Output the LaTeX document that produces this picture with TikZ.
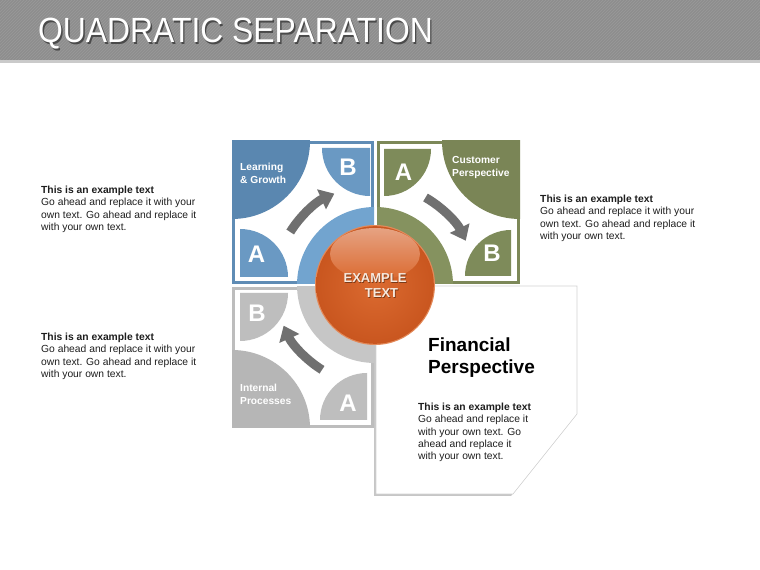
\documentclass[tikz,border=0pt]{standalone}
\usepackage{fontspec}
\setmainfont{Liberation Sans}
\usepackage{graphicx}
\usetikzlibrary{arrows.meta,patterns}

\definecolor{bandgray}{HTML}{8E8E8E}
\definecolor{bandline}{HTML}{999999}
\definecolor{bandedge}{HTML}{CACACA}
\definecolor{titleshade}{HTML}{4A4A4A}
\definecolor{blueframe}{HTML}{5F8CB5}
\definecolor{bluedark}{HTML}{5A87B0}
\definecolor{bluemid}{HTML}{6A99C3}
\definecolor{bluering}{HTML}{72A4CF}
\definecolor{greenframe}{HTML}{7C8858}
\definecolor{greendark}{HTML}{7A8556}
\definecolor{greenmid}{HTML}{7E8B5A}
\definecolor{greenring}{HTML}{85925F}
\definecolor{grayframe}{HTML}{BDBDBD}
\definecolor{graydark}{HTML}{B6B6B6}
\definecolor{graymid}{HTML}{BEBEBE}
\definecolor{grayring}{HTML}{C6C6C6}
\definecolor{arrowgray}{HTML}{707070}
\definecolor{orangerim}{HTML}{E38A5A}
\definecolor{orangein}{HTML}{DB6A30}
\definecolor{orangeout}{HTML}{C9561F}
\definecolor{glowtop}{HTML}{E6A282}
\definecolor{centrewhite}{HTML}{F7E9DE}
\definecolor{centreshade}{HTML}{7A3A18}
\definecolor{notegray}{HTML}{1E1E1E}

\tikzset{
  title/.style={anchor=base west, inner sep=0pt, font=\fontsize{35}{35}\selectfont},
  quadletter/.style={font=\fontsize{24}{24}\selectfont\bfseries, text=white, inner sep=0pt},
  quadlabel/.style={font=\fontsize{10.2}{13}\selectfont\bfseries, text=white, align=left, anchor=north west, inner sep=0pt},
  note/.style={font=\fontsize{10.3}{12.3}\selectfont, text=notegray, align=left, anchor=north west, inner sep=0pt},
  centretext/.style={font=\fontsize{13}{13}\selectfont\bfseries, anchor=base, inner sep=0pt},
  cyclearrow/.style={draw=arrowgray, line width=9pt, -{Triangle[width=21pt,length=14pt]}},
}

\begin{document}
\begin{tikzpicture}[x=1pt,y=1pt]

\useasboundingbox (0,0) rectangle (760,570);
\fill[white] (0,0) rectangle (760,570);

% header band
\fill[bandgray] (0,510) rectangle (760,570);
\fill[pattern=north east lines, pattern color=bandline] (0,510) rectangle (760,570);
\fill[bandedge] (0,507) rectangle (760,510);
\node[title, text=titleshade] (titleshadow) at (39.3,525.7) {\scalebox{0.91}[1]{QUADRATIC SEPARATION}};
\node[title, text=white] (titletext) at (38,527) {\scalebox{0.91}[1]{QUADRATIC SEPARATION}};

\coordinate (O) at (375,285);

% learning & growth
\fill[blueframe] (232,286) rectangle (374,429);
\fill[white] (235,289) rectangle (371,426);
\begin{scope}
\clip (232,286) rectangle (374,429);
\fill[bluedark] (232,429) circle (78);
\fill[bluering] (O) circle (78);
\end{scope}
\fill[bluemid] (370,422) -- (322,422) arc[start angle=180, end angle=270, radius=48] -- cycle;
\fill[bluemid] (240,293) -- (288,293) arc[start angle=0, end angle=90, radius=48] -- cycle;

% customer perspective
\fill[greenframe] (377,286) rectangle (520,429);
\fill[white] (380,289) rectangle (517,426);
\begin{scope}
\clip (377,286) rectangle (520,429);
\fill[greendark] (520,429) circle (78);
\fill[greenring] (O) circle (78);
\end{scope}
\fill[greenmid] (384,421) -- (384,374) arc[start angle=270, end angle=360, radius=47] -- cycle;
\fill[greenmid] (511,294) -- (511,340) arc[start angle=90, end angle=180, radius=46] -- cycle;

% internal processes
\fill[grayframe] (232,142) rectangle (374,283);
\fill[white] (235,145) rectangle (371,280);
\begin{scope}
\clip (232,142) rectangle (374,283);
\fill[graydark] (232,142) circle (78);
\fill[grayring] (O) circle (78);
\end{scope}
\fill[graymid] (240,277) -- (240,229) arc[start angle=270, end angle=360, radius=48] -- cycle;
\fill[graymid] (367,150) -- (367,197) arc[start angle=90, end angle=180, radius=47] -- cycle;

% financial perspective card
\coordinate (P1) at (376,284);
\coordinate (P2) at (577,284);
\coordinate (P3) at (577,156);
\coordinate (P4) at (513,76);
\coordinate (P5) at (376,76);
\fill[gray!45] (374,282) -- (575,282) -- (575,154) -- (511,74) -- (374,74) -- cycle;
\filldraw[fill=white, draw=gray!35, line width=0.6pt] (P1)--(P2)--(P3)--(P4)--(P5)--cycle;

% arrows
\draw[cyclearrow] (O) ++(148:100) arc[start angle=148, end angle=114, radius=100];
\draw[cyclearrow] (O) ++(60:101) arc[start angle=60, end angle=26, radius=101];
\draw[cyclearrow] (O) ++(238:100) arc[start angle=238, end angle=204, radius=100];

% centre ball
\fill[orangerim] (O) circle (60);
\shade[inner color=orangein, outer color=orangeout] (O) circle (58.8);
\shade[top color=glowtop, bottom color=orangein] (375,316) ellipse (45 and 26);
\node[centretext, text=centreshade] (exshadow) at (375.8,286.2) {EXAMPLE};
\node[centretext, text=centrewhite] (extext) at (375,287) {EXAMPLE};
\node[centretext, text=centreshade] (txshadow) at (382.3,271.2) {TEXT};
\node[centretext, text=centrewhite] (txtext) at (381.5,272) {TEXT};

% quadrant letters
\node[quadletter] (lgB) at (348,402.5) {B};
\node[quadletter] (lgA) at (256.5,316) {A};
\node[quadletter] (cpA) at (403.5,398) {A};
\node[quadletter] (cpB) at (492,317) {B};
\node[quadletter] (ipB) at (257,257) {B};
\node[quadletter] (ipA) at (348,167) {A};

% quadrant labels
\node[quadlabel] (lglabel) at (240,407) {Learning\\\& Growth};
\node[quadlabel] (cplabel) at (452,414) {Customer\\Perspective};
\node[quadlabel] (iplabel) at (240,186) {Internal\\Processes};

\node[anchor=north west, inner sep=0pt, align=left, font=\fontsize{19}{21.5}\selectfont\bfseries] (fptitle) at (428,232) {Financial\\Perspective};

% notes
\node[note] (noteone) at (41,384) {\textbf{This is an example text}\\Go ahead and replace it with your\\own text. Go ahead and replace it\\with your own text.};
\node[note] (notetwo) at (41,237) {\textbf{This is an example text}\\Go ahead and replace it with your\\own text. Go ahead and replace it\\with your own text.};
\node[note] (notethree) at (540,375) {\textbf{This is an example text}\\Go ahead and replace it with your\\own text. Go ahead and replace it\\with your own text.};
\node[note] (notefour) at (418,167) {\textbf{This is an example text}\\Go ahead and replace it\\with your own text. Go\\ahead and replace it\\with your own text.};

\end{tikzpicture}
\end{document}
